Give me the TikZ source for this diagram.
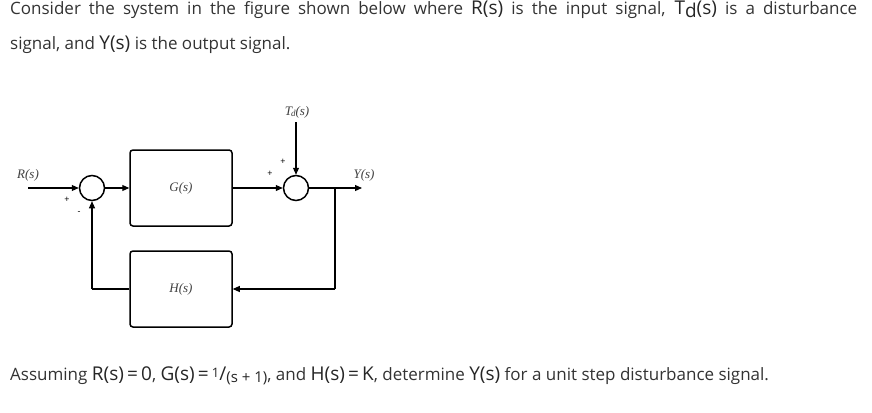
\documentclass[tikz,border=0pt]{standalone}
\usepackage{fontspec}
\setmainfont{Open Sans}
\newfontfamily\lbl{Liberation Serif}
\newcommand{\mv}[1]{{\fontsize{19}{22}\selectfont\color{black!85}#1}}
\usetikzlibrary{arrows.meta}
\begin{document}
\begin{tikzpicture}[x=1pt,y=-1pt,
  blk/.style={draw,line width=1.5pt,rounded corners=3pt,minimum width=102pt,minimum height=76pt,inner sep=0pt,font=\lbl\itshape\fontsize{13}{14}\selectfont,text=black!75},
  sumc/.style={draw,line width=1.5pt,circle,minimum size=25pt,inner sep=0pt},
  sig/.style={line width=1.1pt,-{Triangle[length=7pt,width=6pt]}},
  ln/.style={line width=1.1pt},
  lab/.style={font=\lbl\itshape\fontsize{13}{14}\selectfont,text=black!75,inner sep=0pt},
  sg/.style={font=\fontsize{9}{9}\selectfont,inner sep=0pt},
  txt/.style={font=\fontsize{17}{35}\selectfont,text=black!80,inner sep=0pt,anchor=north west}]
\useasboundingbox[fill=white] (0,0) rectangle (872,412);
\node[txt,text width=847pt,align=justify] (p) at (10,1) {Consider the system in the figure shown below where \mv{R(s)} is the input signal, \mv{T\raisebox{-3pt}{d}(s)} is a disturbance\linebreak signal, and \mv{Y(s)} is the output signal.};
\node[txt,anchor=west] (q) at (10,376) {Assuming \mv{R(s)\,=\,0}, \mv{G(s)\,=\,\raisebox{3pt}{\fontsize{13}{13}\selectfont 1}/\raisebox{-2pt}{\fontsize{15}{15}\selectfont(s + 1)}}, and \mv{H(s)\,=\,K}, determine \mv{Y(s)} for a unit step disturbance signal.};
\node[sumc] (s1) at (92,188) {};
\node[sumc] (s2) at (296,188) {};
\node[blk] (g) at (181,188) {G(s)};
\node[blk] (h) at (181,289) {H(s)};
\node[lab] (r) at (28,175) {R(s)};
\node[lab] (td) at (297,112) {T\kern-1pt\raisebox{-1pt}{\fontsize{9}{9}\selectfont d}(s)};
\node[lab] (y) at (364,175) {Y(s)};
\coordinate (rin) at (28,188);
\coordinate (tdt) at (296,122);
\coordinate (yo) at (362,188);
\coordinate (br) at (335,188);
\coordinate (bb) at (335,289);
\coordinate (fl) at (92,289);
\draw[sig] (rin) -- (s1.west);
\draw[sig] (s1.east) -- (g.west);
\draw[sig] (g.east) -- (s2.west);
\draw[sig] (tdt) -- (s2.north);
\draw[sig] (s2.east) -- (yo);
\draw[ln] (br) -- (bb);
\draw[sig] (bb) -- (h.east);
\draw[ln] (h.west) -- (fl);
\draw[sig] (fl) -- (s1.south);
\node[sg] (p1) at (67,200) {+};
\node[sg] (m1) at (79,213) {-};
\node[sg] (p2) at (270,174) {+};
\node[sg] (p3) at (283,162) {+};
\end{tikzpicture}
\end{document}
